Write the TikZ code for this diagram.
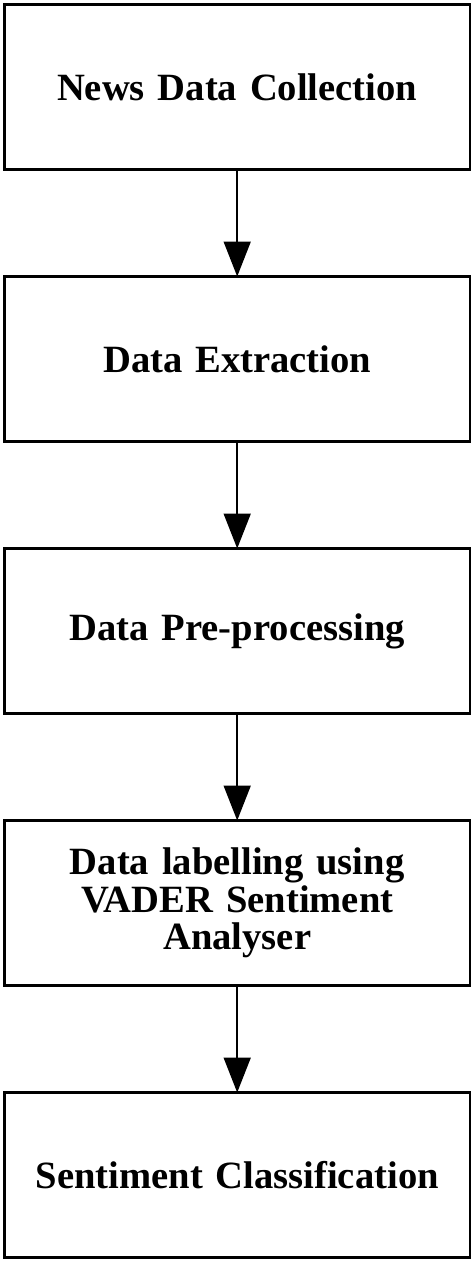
\documentclass[tikz,border=0pt]{standalone}
\usepackage{fontspec}
\setmainfont{Liberation Serif}
\usepackage{tikz}
\usetikzlibrary{arrows.meta, positioning}

\tikzset{
  stepbox/.style={draw, line width=1.35pt, rectangle, minimum width=232.75pt, minimum height=82.5pt,
    inner sep=0pt, outer sep=0pt, text width=225pt, align=center,
    font=\fontsize{19.3}{18.8}\selectfont\bfseries},
  flow/.style={-{Triangle[width=13.5pt,length=17.5pt]}, line width=0.9pt}
}

\begin{document}
\begin{tikzpicture}[node distance=53.5pt]
\useasboundingbox (0,0) rectangle (237pt,-631.5pt);

\node[stepbox] (collect) at (118.6pt,-43.5pt) {News Data Collection};
\node[stepbox, below=of collect] (extract) {Data Extraction};
\node[stepbox, below=of extract] (preproc) {Data Pre-processing};
\node[stepbox, below=of preproc] (label) {Data labelling using\\VADER Sentiment\\Analyser};
\node[stepbox, below=of label] (classify) {Sentiment Classification};

\draw [flow] (collect) -- (extract);
\draw [flow] (extract) -- (preproc);
\draw [flow] (preproc) -- (label);
\draw [flow] (label) -- (classify);
\end{tikzpicture}
\end{document}
